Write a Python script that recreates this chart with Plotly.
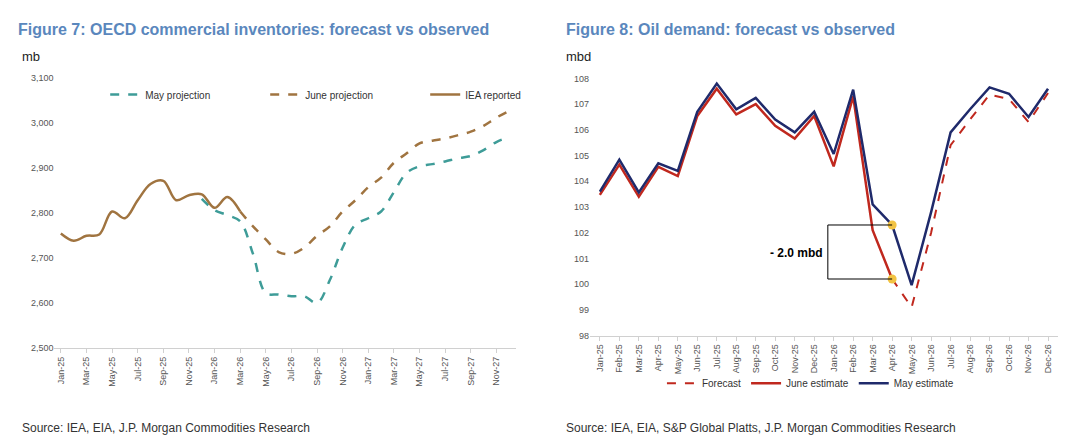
import plotly.graph_objects as go

# ---- Figure 7 data (mb) ----
months_l = [f"{m}-{y}" for y in ("25", "26", "27") for m in
            ("Jan", "Feb", "Mar", "Apr", "May", "Jun", "Jul", "Aug", "Sep", "Oct", "Nov", "Dec")]
iea_reported = [2754, 2738, 2749, 2752, 2803, 2788, 2828, 2864, 2871, 2828, 2839, 2841,
                2811, 2835, 2803]
june_proj = [2803, 2770, 2741, 2713, 2709, 2723, 2749, 2770, 2803, 2828, 2857, 2878,
             2911, 2932, 2954, 2960, 2965, 2972, 2980, 2993, 3011, 3026]
may_proj = [2831, 2806, 2795, 2781, 2709, 2622, 2619, 2615, 2615, 2600, 2651, 2723,
            2774, 2788, 2803, 2846, 2889, 2903, 2908, 2914, 2921, 2926, 2939, 2957, 2968]

# ---- Figure 8 data (mbd) ----
months_r = months_l[:24]
may_est = [103.6, 104.84, 103.57, 104.7, 104.4, 106.7, 107.8, 106.8, 107.24, 106.4, 105.9, 106.7,
           105.06, 107.56, 103.1, 102.3, 99.96, 102.8, 105.9, 106.8, 107.65, 107.4, 106.5, 107.6]
june_est = [103.47, 104.65, 103.4, 104.56, 104.2, 106.54, 107.6, 106.6, 107.0, 106.16, 105.66, 106.54,
            104.58, 107.3, 102.1, 100.2]
forecast = [100.2, 99.1, 102.0, 105.4, 106.4, 107.37, 107.2, 106.3, 107.43]

teal, brown = "#3E9C98", "#A07440"
red, navy = "#C0281E", "#1F2A6B"

fig = go.Figure()
fig.add_trace(go.Scatter(x=months_l[11:], y=may_proj, mode="lines", name="May projection",
                         line=dict(color=teal, width=2.5, dash="dash", shape="spline"),
                         legend="legend"))
fig.add_trace(go.Scatter(x=months_l[14:], y=june_proj, mode="lines", name="June projection",
                         line=dict(color=brown, width=2.5, dash="dash", shape="spline"),
                         legend="legend"))
fig.add_trace(go.Scatter(x=months_l[:15], y=iea_reported, mode="lines", name="IEA reported",
                         line=dict(color=brown, width=2.5, shape="spline"),
                         legend="legend"))

fig.add_trace(go.Scatter(x=months_r[15:], y=forecast, mode="lines", name="Forecast",
                         line=dict(color=red, width=2, dash="dash"),
                         xaxis="x2", yaxis="y2", legend="legend2"))
fig.add_trace(go.Scatter(x=months_r[:16], y=june_est, mode="lines", name="June estimate",
                         line=dict(color=red, width=2.5),
                         xaxis="x2", yaxis="y2", legend="legend2"))
fig.add_trace(go.Scatter(x=months_r, y=may_est, mode="lines", name="May estimate",
                         line=dict(color=navy, width=2.5),
                         xaxis="x2", yaxis="y2", legend="legend2"))
fig.add_trace(go.Scatter(x=[months_r[15], months_r[15]], y=[may_est[15], june_est[15]],
                         mode="markers", marker=dict(color="#F2C343", size=9),
                         xaxis="x2", yaxis="y2", showlegend=False))

# bracket for the -2.0 mbd gap
for y0 in (may_est[15], june_est[15]):
    fig.add_shape(type="line", xref="x2", yref="y2", x0=11.7, x1=15, y0=y0, y1=y0,
                  line=dict(color="black", width=1))
fig.add_shape(type="line", xref="x2", yref="y2", x0=11.7, x1=11.7,
              y0=june_est[15], y1=may_est[15], line=dict(color="black", width=1))
fig.add_annotation(x=10.1, y=101.2, xref="x2", yref="y2", text="<b>- 2.0 mbd</b>",
                   showarrow=False, font=dict(size=12, color="black"))

tick_font = dict(size=9, color="#555555")
fig.update_layout(
    width=1080, height=443, margin=dict(l=0, r=0, t=0, b=0),
    paper_bgcolor="white", plot_bgcolor="white",
    font=dict(family="Liberation Sans, Arial", color="#333333"),
    xaxis=dict(domain=[0.043, 0.470], type="category", categoryorder="array",
               categoryarray=months_l, range=[-0.5, 35.5], tickangle=-90, tickfont=tick_font,
               tickvals=months_l[::2], showgrid=False, showline=True, linecolor="#D0D0D0",
               ticks="outside", ticklen=4, tickcolor="#D0D0D0", anchor="y"),
    yaxis=dict(domain=[0.226, 0.851], range=[2500, 3100], dtick=100, tickformat=",",
               tickfont=tick_font, showgrid=False, zeroline=False, anchor="x"),
    xaxis2=dict(domain=[0.539, 0.972], type="category", categoryorder="array",
                categoryarray=months_r, range=[-0.5, 23.5], tickangle=-90, tickfont=tick_font,
                showgrid=False, showline=True, linecolor="#D0D0D0",
                ticks="outside", ticklen=4, tickcolor="#D0D0D0", anchor="y2"),
    yaxis2=dict(domain=[0.255, 0.849], range=[98, 108], dtick=1,
                tickfont=tick_font, showgrid=False, zeroline=False, anchor="x2"),
    legend=dict(orientation="h", x=0.09, y=0.845, xanchor="left", yanchor="top",
                font=dict(size=10, color="#333333"), bgcolor="rgba(0,0,0,0)",
                entrywidth=115),
    legend2=dict(orientation="h", x=0.743, y=0.145, xanchor="center", yanchor="middle",
                 font=dict(size=10, color="#333333"), bgcolor="rgba(0,0,0,0)"),
)

title_font = dict(size=16, color="#5A87BD", family="Liberation Sans, Arial")
fig.add_annotation(x=8 / 1080, y=1 - 17 / 443, xref="paper", yref="paper", xanchor="left",
                   yanchor="middle", showarrow=False, font=title_font,
                   text="<b>Figure 7: OECD commercial inventories: forecast vs observed</b>")
fig.add_annotation(x=556 / 1080, y=1 - 17 / 443, xref="paper", yref="paper", xanchor="left",
                   yanchor="middle", showarrow=False, font=title_font,
                   text="<b>Figure 8: Oil demand: forecast vs observed</b>")
for xp, txt in ((12, "mb"), (556, "mbd")):
    fig.add_annotation(x=xp / 1080, y=1 - 45 / 443, xref="paper", yref="paper", xanchor="left",
                       yanchor="middle", showarrow=False, text=txt,
                       font=dict(size=13, color="#222222"))
for xp, txt in ((12, "Source: IEA, EIA, J.P. Morgan Commodities Research"),
                (556, "Source: IEA, EIA, S&P Global Platts, J.P. Morgan Commodities Research")):
    fig.add_annotation(x=xp / 1080, y=1 - 425 / 443, xref="paper", yref="paper", xanchor="left",
                       yanchor="middle", showarrow=False, text=txt,
                       font=dict(size=12, color="#333333"))

fig.write_html("out.html")
